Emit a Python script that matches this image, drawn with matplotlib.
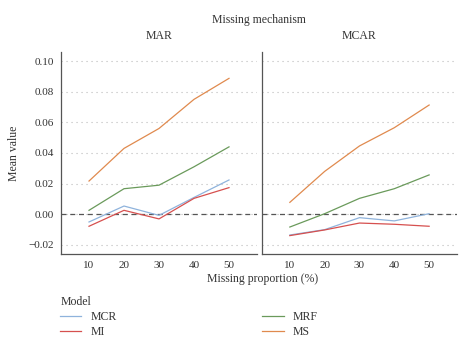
import matplotlib
matplotlib.use("Agg")
import matplotlib.pyplot as plt
from matplotlib.lines import Line2D

plt.rcParams['font.family'] = ['Liberation Serif', 'DejaVu Serif']

proportions = [10, 20, 30, 40, 50]
mechanisms = ["MAR", "MCAR"]
models = ["MCR", "MI", "MRF", "MS"]
colors = {"MCR": "#8fb3dc", "MI": "#d6504f", "MRF": "#6a9a5b", "MS": "#e08a4e"}

mar_mcr = [-0.005, 0.0054, -0.0007, 0.011, 0.0224]
mar_mi = [-0.0078, 0.0026, -0.003, 0.0104, 0.0174]
mar_mrf = [0.0026, 0.0167, 0.019, 0.031, 0.044]
mar_ms = [0.0217, 0.043, 0.056, 0.075, 0.0887]

mcar_mcr = [-0.0135, -0.010, -0.0022, -0.0043, 0.0004]
mcar_mi = [-0.0139, -0.0102, -0.0057, -0.0065, -0.0078]
mcar_mrf = [-0.0083, 0.0004, 0.0104, 0.0167, 0.0257]
mcar_ms = [0.0078, 0.028, 0.0446, 0.0565, 0.0713]

data = {
    "MAR": {"MCR": mar_mcr, "MI": mar_mi, "MRF": mar_mrf, "MS": mar_ms},
    "MCAR": {"MCR": mcar_mcr, "MI": mcar_mi, "MRF": mcar_mrf, "MS": mcar_ms},
}
yticks = [-0.02, 0.00, 0.02, 0.04, 0.06, 0.08, 0.10]

fig = plt.figure(figsize=(4.74, 3.52), dpi=100)
positions = [[0.1287, 0.2784, 0.4135, 0.5739], [0.5527, 0.2784, 0.4114, 0.5739]]
spine_col = "#555555"
text_col = "#333333"

for i, mech in enumerate(mechanisms):
    ax = fig.add_axes(positions[i])
    for y in yticks:
        ax.axhline(y, color="#bbbbbb", lw=0.8, ls=(0, (1, 3.5)), zorder=0)
    ax.axhline(0, color="#555555", lw=0.9, ls=(0, (4, 3)), zorder=1)
    for m in models:
        ax.plot(proportions, data[mech][m], color=colors[m], lw=0.9, zorder=2)
    ax.set_xlim(2, 58)
    ax.set_ylim(-0.0259, 0.1059)
    ax.set_xticks(proportions)
    ax.set_yticks(yticks)
    ax.tick_params(length=0, labelsize=8, colors=text_col, pad=5)
    if i == 0:
        ax.set_yticklabels([f"{v:.2f}".replace("-", "\u2212") for v in yticks])
        ax.set_ylabel("Mean value", fontsize=8.5, color=text_col, labelpad=6)
    else:
        ax.set_yticklabels([])
    for s in ["top", "right"]:
        ax.spines[s].set_visible(False)
    for s in ["left", "bottom"]:
        ax.spines[s].set_color(spine_col)
        ax.spines[s].set_linewidth(0.9)
    ax.set_title(mech, fontsize=8.5, color=text_col, pad=9)

fig.text(0.546, 0.942, "Missing mechanism", ha="center", va="center", fontsize=8.5, color=text_col)
fig.text(0.553, 0.207, "Missing proportion (%)", ha="center", va="center", fontsize=8.5, color=text_col)

handles = [Line2D([0], [0], color=colors[m], lw=0.9) for m in models]
leg = fig.legend(handles, models, loc="upper left", bbox_to_anchor=(0.117, 0.172),
                 ncol=2, frameon=False, title="Model", fontsize=8.5, title_fontsize=8.5,
                 handlelength=1.8, columnspacing=12.3, labelspacing=0.25, alignment="left",
                 borderaxespad=0, handletextpad=0.8)
for t in leg.get_texts():
    t.set_color(text_col)
leg.get_title().set_color(text_col)

fig.savefig("out.png", dpi=100)
